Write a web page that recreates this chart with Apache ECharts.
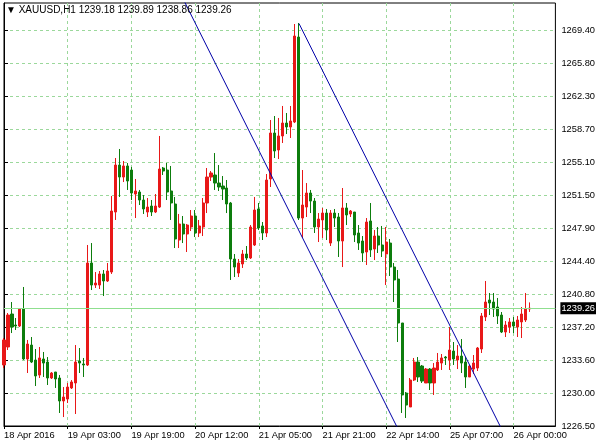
<!DOCTYPE html>
<html>
<head>
<meta charset="utf-8">
<script src="https://cdn.jsdelivr.net/npm/echarts@6/dist/echarts.min.js"></script>
<style>
  html, body { margin: 0; padding: 0; background: #fff; }
  #chart { width: 598px; height: 443px; }
</style>
</head>
<body>
<div id="chart"></div>
<script>
// ---------------- DATA ----------------
const symbolName = 'XAUUSD,H1';
const xTickLabels = ['18 Apr 2016', '19 Apr 03:00', '19 Apr 19:00', '20 Apr 12:00', '21 Apr 05:00',
  '21 Apr 21:00', '22 Apr 14:00', '25 Apr 07:00', '26 Apr 00:00'];
const yTickLabels = ['1226.50', '1230.00', '1233.60', '1237.20', '1240.80', '1244.40', '1247.90',
  '1251.50', '1255.10', '1258.70', '1262.30', '1265.80', '1269.40'];

const opens = [
  1233.11, 1235.06, 1238.63, 1237.44, 1237.33, 1239.17, 1233.76, 1235.27, 1233.65, 1232.02,
  1233.76, 1233.43, 1231.70, 1232.35, 1231.70, 1229.21, 1229.42, 1230.62, 1231.16, 1233.54,
  1233.22, 1233.11, 1244.16, 1241.77, 1241.77, 1242.97, 1242.21, 1243.18, 1249.68, 1254.77,
  1253.47, 1254.67, 1254.23, 1251.63, 1251.85, 1250.98, 1249.68, 1250.33, 1249.68, 1250.22,
  1254.45, 1254.23, 1251.96, 1250.55, 1246.65, 1248.38, 1247.30, 1248.06, 1249.25, 1247.41,
  1248.06, 1250.66, 1253.47, 1253.69, 1252.82, 1252.50, 1252.28, 1250.66, 1244.59, 1243.07,
  1244.05, 1245.13, 1244.70, 1246.11, 1250.01, 1248.17, 1247.41, 1253.26, 1258.24, 1256.40,
  1257.92, 1259.32, 1258.89, 1259.43, 1268.64, 1249.03, 1250.22, 1251.74, 1250.87, 1248.06,
  1248.82, 1249.57, 1246.32, 1249.57, 1249.14, 1246.54, 1250.12, 1249.47, 1249.68, 1247.41,
  1246.54, 1245.35, 1248.71, 1245.67, 1247.08, 1246.11, 1245.13, 1246.32, 1243.72, 1242.42,
  1237.66, 1230.07, 1228.56, 1231.48, 1233.43, 1233.00, 1231.16, 1232.67, 1231.16, 1232.57,
  1233.32, 1233.97, 1233.65, 1234.62, 1233.65, 1234.08, 1233.43, 1231.81, 1232.67, 1232.78,
  1234.84, 1238.31, 1240.15, 1239.93, 1239.39, 1238.52, 1236.68, 1237.22, 1237.77, 1237.22,
  1237.77, 1237.98, 1239.18
];
const highs = [
  1236.03, 1238.74, 1239.93, 1238.20, 1239.28, 1241.56, 1235.82, 1236.14, 1234.84, 1235.06,
  1234.52, 1233.97, 1232.35, 1232.35, 1232.02, 1230.72, 1231.16, 1231.48, 1235.27, 1234.95,
  1233.87, 1246.11, 1246.32, 1243.18, 1243.29, 1243.40, 1244.16, 1251.42, 1255.53, 1256.51,
  1255.21, 1254.99, 1254.56, 1253.26, 1252.07, 1251.52, 1251.20, 1250.98, 1251.63, 1257.92,
  1254.56, 1254.99, 1254.67, 1251.31, 1249.47, 1249.25, 1248.38, 1249.90, 1249.90, 1248.82,
  1251.20, 1254.45, 1254.12, 1256.07, 1254.77, 1253.58, 1253.15, 1250.77, 1245.13, 1244.59,
  1245.57, 1246.00, 1248.27, 1251.31, 1250.66, 1248.60, 1253.80, 1259.65, 1260.08, 1259.87,
  1261.17, 1260.41, 1261.17, 1270.05, 1270.16, 1254.23, 1252.82, 1252.07, 1251.20, 1249.57,
  1250.12, 1250.01, 1249.90, 1250.01, 1249.57, 1252.28, 1250.66, 1249.90, 1249.68, 1248.27,
  1247.08, 1249.03, 1250.66, 1247.73, 1248.06, 1248.17, 1248.06, 1246.76, 1244.16, 1243.40,
  1237.66, 1230.18, 1231.70, 1233.87, 1233.97, 1233.11, 1232.78, 1232.78, 1233.32, 1234.41,
  1234.30, 1234.08, 1237.22, 1235.60, 1235.27, 1235.92, 1233.97, 1233.11, 1234.19, 1235.06,
  1238.74, 1242.21, 1240.91, 1240.91, 1240.37, 1238.85, 1237.87, 1238.20, 1238.31, 1238.42,
  1239.39, 1240.91, 1239.89
];
const lows = [
  1232.78, 1234.73, 1236.57, 1236.90, 1237.22, 1233.65, 1232.24, 1233.32, 1230.83, 1231.70,
  1231.81, 1230.94, 1231.59, 1230.62, 1227.91, 1227.47, 1228.99, 1230.51, 1227.80, 1232.24,
  1231.81, 1233.00, 1241.23, 1241.45, 1241.34, 1240.58, 1242.10, 1242.97, 1248.82, 1251.31,
  1252.93, 1252.07, 1250.98, 1249.03, 1250.44, 1249.47, 1249.14, 1249.25, 1249.57, 1250.12,
  1253.69, 1250.98, 1248.82, 1245.78, 1245.78, 1246.32, 1245.35, 1247.62, 1246.97, 1246.97,
  1247.08, 1249.57, 1253.04, 1252.07, 1251.96, 1250.98, 1249.57, 1242.32, 1242.64, 1242.64,
  1243.62, 1244.48, 1244.59, 1246.00, 1247.73, 1246.65, 1246.97, 1252.39, 1255.53, 1255.42,
  1257.16, 1258.13, 1257.70, 1259.32, 1248.82, 1246.87, 1249.14, 1249.57, 1247.41, 1246.43,
  1246.87, 1246.65, 1246.00, 1248.06, 1244.81, 1243.72, 1248.27, 1249.14, 1246.43, 1245.57,
  1244.27, 1243.94, 1244.81, 1244.48, 1245.24, 1244.81, 1241.77, 1242.75, 1239.93, 1235.60,
  1227.91, 1227.37, 1228.56, 1231.37, 1231.27, 1231.16, 1231.16, 1230.40, 1229.86, 1232.46,
  1232.57, 1233.11, 1232.57, 1233.11, 1232.67, 1232.24, 1230.62, 1231.81, 1232.13, 1232.46,
  1234.41, 1237.87, 1238.52, 1238.31, 1237.55, 1236.57, 1236.14, 1236.57, 1236.57, 1236.14,
  1236.03, 1237.77, 1238.86
];
const closes = [
  1235.82, 1238.52, 1237.22, 1237.33, 1239.17, 1233.76, 1235.38, 1233.43, 1231.92, 1233.87,
  1233.32, 1231.70, 1232.24, 1231.59, 1229.21, 1229.64, 1230.72, 1231.27, 1233.43, 1233.32,
  1233.11, 1244.16, 1241.77, 1241.99, 1242.97, 1242.21, 1243.29, 1249.79, 1254.77, 1253.47,
  1254.67, 1253.04, 1251.74, 1251.96, 1250.98, 1250.01, 1250.22, 1249.68, 1250.33, 1254.34,
  1254.12, 1251.85, 1250.66, 1246.76, 1248.38, 1247.30, 1248.27, 1249.25, 1247.41, 1248.17,
  1250.66, 1253.47, 1253.91, 1252.82, 1252.39, 1252.17, 1250.55, 1244.59, 1243.72, 1244.16,
  1245.13, 1244.70, 1248.06, 1249.90, 1247.95, 1247.41, 1253.15, 1258.24, 1256.29, 1257.92,
  1259.32, 1258.89, 1259.54, 1268.75, 1249.03, 1250.44, 1251.74, 1250.87, 1248.06, 1248.92,
  1249.57, 1247.73, 1249.57, 1249.03, 1246.54, 1250.12, 1249.36, 1249.79, 1247.19, 1246.32,
  1245.24, 1248.60, 1245.57, 1247.08, 1246.11, 1245.46, 1246.43, 1243.72, 1242.32, 1237.66,
  1229.86, 1228.77, 1231.48, 1233.43, 1231.81, 1231.37, 1232.67, 1231.16, 1232.78, 1233.43,
  1233.87, 1233.87, 1234.73, 1233.76, 1234.08, 1233.32, 1231.81, 1233.00, 1233.32, 1234.95,
  1238.42, 1239.93, 1239.82, 1239.17, 1238.42, 1236.68, 1237.44, 1237.77, 1237.33, 1237.98,
  1238.63, 1239.17, 1239.26
];

// Trend channel lines drawn on the chart: [bar index, price]
const channelLower = [[40, 1277.08], [104, 1221.83]];
const channelUpper = [[74.1, 1270.10], [130, 1221.84]];

// ---------------- SCALE SETUP ----------------
const Y_BASE = parseFloat(yTickLabels[0]);
const Y_STEP = (parseFloat(yTickLabels[yTickLabels.length - 1]) - Y_BASE) / (yTickLabels.length - 1);
const Y_MAX = 45.825;          // plot top edge, in offset units above the base tick
const BARS_PER_LABEL = 16;
const BARS_PER_GRID = 8;
const X_MAX = 138.5;

const candleData = opens.map((o, i) => [i, o - Y_BASE, closes[i] - Y_BASE, lows[i] - Y_BASE, highs[i] - Y_BASE]);
const toLine = pts => pts.map(p => [p[0], p[1] - Y_BASE]);
const last = opens.length - 1;
const lastPrice = closes[last];

const FONT = 'Liberation Sans, Arial, sans-serif';
const GRID_COLOR = '#9bd89b';
const UP = '#e81818';
const DOWN = '#0d7d0d';

const xLabelValues = xTickLabels.map((_, i) => i * BARS_PER_LABEL);
const yTickValues = yTickLabels.map((_, i) => i * Y_STEP);

const chart = echarts.init(document.getElementById('chart'), null, { renderer: 'canvas' });
chart.setOption({
  animation: false,
  backgroundColor: '#fff',
  title: {
    text: '\u25BC ' + symbolName + ' ' + opens[last].toFixed(2) + ' ' + highs[last].toFixed(2) + ' ' +
      lows[last].toFixed(2) + ' ' + closes[last].toFixed(2),
    left: 6, top: 5, padding: 0,
    textStyle: { fontFamily: FONT, fontSize: 10, fontWeight: 'normal', color: '#000' }
  },
  grid: {
    left: 4, right: 40, top: 3, bottom: 17,
    show: true, borderColor: '#000', borderWidth: 1, backgroundColor: '#fff'
  },
  xAxis: {
    type: 'value', min: 0, max: X_MAX, interval: BARS_PER_GRID,
    axisLine: { show: true, lineStyle: { color: '#000', width: 1 } },
    axisTick: { show: true, length: 3, lineStyle: { color: '#000' }, customValues: xLabelValues },
    axisLabel: {
      customValues: xLabelValues,
      align: 'left', margin: 5, color: '#000', fontFamily: FONT, fontSize: 9.3,
      formatter: v => (Math.abs(v % BARS_PER_LABEL) < 1e-6 ? (xTickLabels[Math.round(v / BARS_PER_LABEL)] || '') : '')
    },
    splitLine: { show: true, showMinLine: false,
      lineStyle: { color: GRID_COLOR, type: [3, 3], width: 1 } }
  },
  yAxis: {
    type: 'value', position: 'right', min: 0, max: Y_MAX, interval: Y_STEP,
    axisLine: { show: true, lineStyle: { color: '#000', width: 1 } },
    axisTick: { show: true, length: 4, lineStyle: { color: '#000' }, customValues: yTickValues },
    axisLabel: {
      customValues: yTickValues,
      margin: 6, color: '#000', fontFamily: FONT, fontSize: 9.3,
      formatter: v => yTickLabels[Math.round(v / Y_STEP)] || ''
    },
    splitLine: { show: true, showMinLine: false,
      lineStyle: { color: GRID_COLOR, type: [3, 3], width: 1 } }
  },
  series: [
    {
      type: 'candlestick',
      data: candleData,
      barWidth: 2.6,
      clip: true,
      itemStyle: { color: UP, color0: DOWN, borderColor: UP, borderColor0: DOWN, borderWidth: 1 },
      markLine: {
        silent: true,
        symbol: ['none', 'none'],
        animation: false,
        lineStyle: { color: '#8fdf8f', type: 'solid', width: 1 },
        label: {
          show: true, position: 'end', distance: 5,
          formatter: () => lastPrice.toFixed(2),
          color: '#fff', backgroundColor: '#000', padding: [2, 1, 1, 1],
          fontFamily: FONT, fontSize: 9.3
        },
        data: [{ yAxis: lastPrice - Y_BASE }]
      }
    },
    {
      type: 'line', data: toLine(channelLower), showSymbol: false, symbol: 'none', clip: true,
      lineStyle: { color: '#0000a8', width: 1 }, silent: true, z: 3
    },
    {
      type: 'line', data: toLine(channelUpper), showSymbol: false, symbol: 'none', clip: true,
      lineStyle: { color: '#0000a8', width: 1 }, silent: true, z: 3
    }
  ]
});
</script>
</body>
</html>
